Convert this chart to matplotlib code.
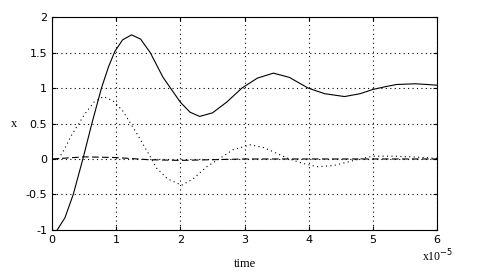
import matplotlib.pyplot as plt

# time in units of 1e-5
t_solid = [0.08, 0.2, 0.33, 0.48, 0.62, 0.77, 0.88, 0.98, 1.1, 1.24, 1.38, 1.53, 1.73, 2.0, 2.15,
           2.3, 2.5, 2.72, 2.96, 3.2, 3.45, 3.7, 3.99, 4.25, 4.56, 4.8, 5.0, 5.2, 5.37, 5.66, 5.85, 6.0]
x_solid = [-1, -0.83, -0.5, 0, 0.5, 1.0, 1.3, 1.52, 1.68, 1.75, 1.69, 1.5, 1.15, 0.8, 0.66,
           0.6, 0.65, 0.8, 1.0, 1.14, 1.21, 1.15, 1.0, 0.92, 0.88, 0.92, 0.98, 1.02, 1.05, 1.06, 1.05, 1.04]

t_dot = [0.1, 0.2, 0.3, 0.5, 0.65, 0.8, 0.95, 1.1, 1.32, 1.5, 1.63, 1.8, 2.02, 2.2, 2.41, 2.6,
         2.82, 3.09, 3.3, 3.7, 3.9, 4.13, 4.4, 4.8, 5.0, 5.3, 5.6, 6.0]
x_dot = [0.0, 0.15, 0.33, 0.62, 0.8, 0.88, 0.82, 0.68, 0.36, 0.08, -0.13, -0.28, -0.37, -0.28, -0.11, 0.0,
         0.13, 0.2, 0.16, 0.0, -0.06, -0.11, -0.09, 0.0, 0.04, 0.04, 0.03, 0.01]

t_dash = [0, 0.5, 1.0, 1.5, 2.0, 2.5, 3.0, 4.0, 5.0, 6.0]
x_dash = [0.0, 0.03, 0.02, -0.01, -0.02, -0.01, 0.0, 0.0, 0.0, 0.0]

xticks = [0, 1, 2, 3, 4, 5, 6]
yticks = [-1, -0.5, 0, 0.5, 1, 1.5, 2]
ytick_labels = ['-1', '-0.5', '0', '0.5', '1', '1.5', '2']

fig = plt.figure(figsize=(4.96, 2.76), dpi=100)
ax = fig.add_axes([0.105, 0.167, 0.776, 0.771])

ax.plot(t_solid, x_solid, color='black', lw=0.8)
ax.plot(t_dot, x_dot, color='black', lw=0.8, linestyle=(0, (1, 3)))
ax.plot(t_dash, x_dash, color='black', lw=0.8, linestyle=(0, (6, 3)))

ax.set_xlim(0, 6)
ax.set_ylim(-1, 2)
ax.set_xticks(xticks)
ax.set_yticks(yticks)
ax.set_yticklabels(ytick_labels)
ax.grid(True, color='black', linestyle=(0, (1, 3)), lw=0.8)
ax.tick_params(direction='in', length=3, labelsize=8, top=True, right=True)
for s in ax.spines.values():
    s.set_linewidth(0.8)

ax.set_xlabel('time', family='Liberation Serif', fontsize=9)
ax.set_ylabel('x', family='Liberation Serif', fontsize=9, rotation=0, va='center')
ax.xaxis.set_label_coords(0.5, -0.13)
ax.yaxis.set_label_coords(-0.1, 0.5)
fig.text(0.85, 0.055, r'x10$^{-5}$', family='Liberation Serif', fontsize=8.5)

fig.savefig('out.png', dpi=100)
